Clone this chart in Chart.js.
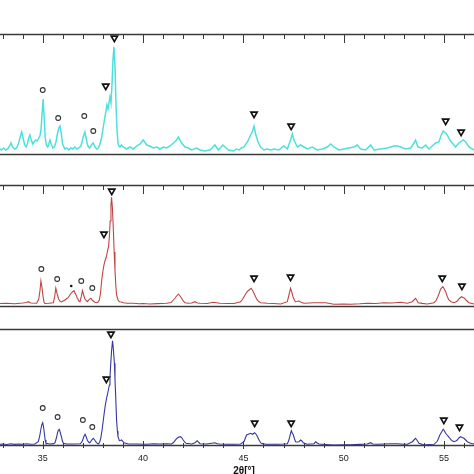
<!DOCTYPE html>
<html>
<head>
<meta charset="utf-8">
<script src="https://cdn.jsdelivr.net/npm/chart.js@4.4.1/dist/chart.umd.min.js"></script>
<style>
  html, body { margin: 0; padding: 0; background: #fff; }
  #wrap { position: relative; width: 474px; height: 474px; overflow: hidden; background: #fff; }
  #wrap canvas { position: absolute; left: 0; }
</style>
</head>
<body>
<div id="wrap">
  <canvas id="topChart" width="488" height="132" style="top:28px"></canvas>
  <canvas id="midChart" width="488" height="132" style="top:180px"></canvas>
  <canvas id="botChart" width="488" height="155" style="top:324px"></canvas>
</div>
<script>
// 2θ range shown (the figure is cropped on both sides)
const thetaMin = 32.87;
const thetaMax = 57.19;
const tickLabels = [35, 40, 45, 50, 55];

// top pattern (cyan)
const cyanTheta = [32.87, 32.95, 33.05, 33.15, 33.25, 33.35, 33.42, 33.5, 33.6, 33.7, 33.8, 33.9, 33.95, 34.02, 34.1, 34.17, 34.25, 34.3, 34.36, 34.43, 34.5, 34.56, 34.65, 34.72, 34.8, 34.86, 34.92, 34.97, 35.02, 35.07, 35.12, 35.18, 35.25, 35.3, 35.36, 35.42, 35.5, 35.58, 35.66, 35.73, 35.8, 35.86, 35.92, 35.99, 36.05, 36.11, 36.2, 36.3, 36.4, 36.5, 36.6, 36.7, 36.8, 36.9, 36.97, 37.03, 37.1, 37.16, 37.22, 37.28, 37.33, 37.4, 37.46, 37.52, 37.58, 37.64, 37.7, 37.76, 37.82, 37.88, 37.94, 38.0, 38.05, 38.1, 38.15, 38.2, 38.25, 38.3, 38.35, 38.4, 38.45, 38.5, 38.55, 38.6, 38.65, 38.7, 38.75, 38.8, 38.85, 38.92, 39.02, 39.18, 39.35, 39.51, 39.68, 39.85, 40.01, 40.18, 40.34, 40.51, 40.68, 40.84, 41.01, 41.17, 41.34, 41.51, 41.67, 41.76, 41.92, 42.09, 42.25, 42.42, 42.67, 42.84, 43.08, 43.33, 43.58, 43.75, 43.98, 44.25, 44.5, 44.65, 44.78, 44.9, 45.03, 45.2, 45.36, 45.44, 45.53, 45.61, 45.73, 45.86, 46.02, 46.19, 46.36, 46.52, 46.77, 46.94, 47.02, 47.19, 47.35, 47.44, 47.52, 47.69, 47.85, 48.02, 48.18, 48.43, 48.68, 48.93, 49.18, 49.35, 49.51, 49.76, 50.01, 50.26, 50.51, 50.68, 50.84, 51.09, 51.34, 51.51, 51.84, 52.17, 52.5, 52.67, 52.84, 53.09, 53.34, 53.5, 53.58, 53.7, 53.91, 54.08, 54.25, 54.41, 54.58, 54.74, 54.86, 54.96, 55.07, 55.16, 55.29, 55.41, 55.57, 55.74, 55.96, 56.08, 56.24, 56.49, 56.8, 57.2];
const cyanIntensity = [6, 5, 7, 5, 6, 9, 12, 8, 6, 7, 12, 20, 23, 17, 10, 8, 12, 17, 20, 15, 11, 13, 15, 14, 17, 19, 27, 42, 56, 38, 18, 10, 8, 11, 15, 11, 7, 8, 13, 21, 27, 29, 22, 11, 8, 6, 7, 5, 7, 6, 8, 6, 7, 9, 14, 19, 23, 17, 11, 8, 7, 9, 11, 12, 9, 7, 6, 7, 9, 13, 18, 26, 32, 38, 44, 50, 46, 52, 58, 52, 70, 95, 108, 88, 52, 25, 12, 9, 8, 10, 8, 6, 8, 6, 9, 11, 15, 10, 9, 7, 8, 6, 8, 7, 9, 12, 15, 18, 12, 8, 7, 5, 7, 5, 4, 5, 10, 5, 10, 5, 4, 6, 5, 7, 8, 13, 20, 23, 29, 21, 13, 8, 5, 6, 5, 6, 5, 8, 9, 6, 15, 21, 15, 8, 10, 8, 6, 8, 5, 6, 8, 11, 8, 5, 6, 7, 8, 10, 6, 5, 10, 5, 6, 7, 9, 9, 8, 6, 7, 12, 15, 8, 7, 10, 6, 9, 12, 13, 20, 24, 22, 20, 15, 12, 8, 12, 15, 13, 8, 5, 6, 5];

// middle pattern (red)
const redTheta = [32.87, 33.2, 33.6, 34.0, 34.2, 34.28, 34.4, 34.7, 34.8, 34.86, 34.91, 34.96, 35.0, 35.06, 35.11, 35.3, 35.53, 35.6, 35.65, 35.72, 35.79, 35.87, 35.94, 36.02, 36.11, 36.2, 36.27, 36.35, 36.42, 36.49, 36.56, 36.61, 36.66, 36.72, 36.8, 36.86, 36.92, 36.98, 37.04, 37.1, 37.22, 37.32, 37.4, 37.46, 37.52, 37.6, 37.69, 37.76, 37.82, 37.88, 37.94, 38.0, 38.05, 38.1, 38.15, 38.19, 38.22, 38.28, 38.32, 38.36, 38.4, 38.43, 38.47, 38.52, 38.56, 38.6, 38.64, 38.68, 38.75, 38.82, 38.92, 39.02, 39.2, 39.51, 39.8, 40.0, 40.34, 40.7, 41.17, 41.4, 41.51, 41.6, 41.67, 41.76, 41.84, 41.92, 42.0, 42.09, 42.25, 42.42, 42.59, 42.7, 42.84, 43.2, 43.5, 43.83, 44.2, 44.53, 44.86, 44.95, 45.03, 45.11, 45.19, 45.28, 45.39, 45.46, 45.53, 45.61, 45.69, 45.78, 45.86, 46.19, 46.5, 46.86, 47.19, 47.27, 47.35, 47.41, 47.47, 47.54, 47.6, 47.69, 47.77, 47.9, 48.02, 48.52, 49.1, 49.51, 50.0, 50.34, 50.8, 51.17, 51.6, 52.0, 52.4, 52.83, 53.17, 53.42, 53.5, 53.58, 53.65, 53.71, 53.9, 54.16, 54.5, 54.6, 54.69, 54.76, 54.83, 54.94, 55.01, 55.08, 55.16, 55.24, 55.35, 55.49, 55.58, 55.66, 55.76, 55.87, 55.95, 56.02, 56.12, 56.24, 56.49, 56.8, 57.2];
const redIntensity = [3.5, 3.8, 3.3, 4, 4.5, 5.3, 4, 3.7, 8, 16, 26, 20, 13, 5, 3.5, 3.7, 4.3, 11, 18.7, 13, 8, 5.5, 5, 6, 7, 8.5, 9.3, 12, 14, 15.3, 16.3, 14, 12, 9, 6, 5.3, 10.3, 16.3, 12, 8, 5.3, 7.7, 8.7, 7, 6, 4.7, 4.3, 5, 7, 14, 27, 36, 42, 46, 48.7, 52, 55.3, 60.3, 70, 86, 102, 109.7, 100, 77, 55, 37, 22, 12, 7, 5.3, 5, 4.3, 3.7, 3.7, 3.2, 3.5, 3, 3.4, 3.7, 4.5, 7, 9, 11, 13, 11, 8.7, 6, 4.3, 3.8, 4, 5.3, 4, 3.7, 3.5, 4.7, 3.7, 3.5, 3.5, 5.3, 7.5, 10.3, 13, 15.3, 17, 18.7, 16.5, 13.7, 10, 7, 5.2, 4.3, 3.7, 3.5, 3, 5.3, 12, 18.7, 15, 10.3, 7, 5.3, 5.5, 6, 4.5, 3.7, 4.3, 4.3, 2.8, 3, 2.8, 3.2, 3.7, 3.5, 4.3, 4, 4.7, 3.7, 5.3, 7, 8.7, 6.5, 4.3, 3.6, 3, 4.3, 6.5, 10.3, 14, 18, 20.3, 18, 15.3, 10.5, 7, 5.2, 4.3, 5, 6, 8.5, 10.3, 9.5, 8.7, 6.5, 4.3, 3, 3.5, 3];

// bottom pattern (blue)
const blueTheta = [32.87, 33.0, 33.2, 33.4, 33.6, 33.8, 34.0, 34.2, 34.4, 34.6, 34.78, 34.85, 34.9, 34.95, 35.0, 35.04, 35.08, 35.12, 35.16, 35.36, 35.55, 35.61, 35.68, 35.73, 35.78, 35.83, 35.88, 35.93, 35.98, 36.03, 36.19, 36.52, 36.86, 36.94, 36.99, 37.05, 37.11, 37.17, 37.22, 37.27, 37.32, 37.38, 37.44, 37.52, 37.58, 37.64, 37.71, 37.77, 37.83, 37.89, 37.95, 38.02, 38.07, 38.12, 38.18, 38.22, 38.27, 38.32, 38.35, 38.38, 38.43, 38.48, 38.52, 38.57, 38.6, 38.63, 38.68, 38.72, 38.75, 38.82, 38.88, 38.93, 39.0, 39.05, 39.26, 39.68, 40.18, 40.5, 40.84, 41.2, 41.42, 41.52, 41.59, 41.68, 41.76, 41.87, 41.94, 42.0, 42.07, 42.14, 42.42, 42.59, 42.7, 42.78, 42.84, 43.17, 43.58, 43.7, 43.83, 44.2, 44.53, 44.86, 45.03, 45.1, 45.16, 45.28, 45.36, 45.46, 45.56, 45.66, 45.72, 45.78, 45.84, 45.89, 46.11, 46.69, 47.0, 47.19, 47.24, 47.29, 47.35, 47.39, 47.44, 47.49, 47.55, 47.6, 47.68, 47.77, 47.85, 47.92, 47.98, 48.18, 48.52, 48.6, 48.68, 48.77, 49.1, 49.51, 50.0, 50.34, 50.8, 51.17, 51.34, 51.45, 51.67, 52.0, 52.34, 52.67, 53.0, 53.17, 53.42, 53.5, 53.58, 53.66, 53.75, 54.0, 54.25, 54.5, 54.66, 54.72, 54.79, 54.88, 54.96, 55.02, 55.08, 55.19, 55.26, 55.33, 55.41, 55.49, 55.58, 55.66, 55.74, 55.82, 55.9, 55.99, 56.08, 56.16, 56.32, 56.49, 56.8, 57.2];
const blueIntensity = [1.7, 2, 1.5, 2.2, 1.6, 2, 1.7, 2.3, 1.8, 2, 4.3, 10, 16, 21, 23.3, 19, 12.7, 6, 2.7, 2, 2.4, 3.3, 8, 12.7, 16, 16.7, 13, 9.3, 5, 2.7, 2, 2, 2.3, 3.5, 6, 9.5, 11.7, 9, 6, 4.3, 3.3, 4, 6, 7.7, 6.3, 4.3, 2.8, 2, 3.5, 7.7, 15, 26, 34, 41, 47.7, 51, 56, 61, 68, 79.3, 95, 105.3, 97, 82.7, 67, 52.7, 26, 15, 9.3, 5.3, 5.5, 6, 4.5, 3.3, 2, 2, 1.7, 2.2, 2, 2.2, 2, 3.5, 5.3, 7.5, 8.7, 9.3, 8, 6, 4, 2.7, 2, 3.3, 5.3, 3.5, 2.3, 2, 3.3, 2.2, 2, 1.7, 1.7, 2, 4.3, 8, 11, 12, 12.7, 11.7, 13.3, 11, 8.5, 6, 4, 2.7, 1.7, 1.7, 2, 2.3, 4.5, 7.7, 12.5, 15.3, 13, 11, 7, 4.3, 4, 4.3, 6, 5, 3.3, 1.7, 2.3, 4.3, 3, 2, 1.5, 1, 1.3, 1.3, 1.6, 2, 3.3, 2, 1.7, 2, 2.3, 2.2, 1.8, 1.7, 4.3, 6, 7.7, 5.5, 2.7, 1, 1.5, 1.7, 4.7, 7.5, 11, 14, 16.7, 15, 12.7, 10, 8.5, 6.7, 5.2, 4.3, 5, 6, 8, 9.3, 8.5, 7.7, 6, 4.3, 2.7, 2, 1.8, 1.5];

// peak markers [2θ, height]: ▽ and ○ phases, ■ extra phase
const topTriangles = [[38.57, 117], [38.14, 69], [45.53, 41], [47.38, 29], [55.08, 34], [55.85, 23]];
const topCircles = [[35.0, 65], [35.77, 37], [37.07, 39], [37.52, 24]];
const midTriangles = [[38.44, 116], [38.05, 73], [45.53, 29], [47.35, 30], [54.91, 29], [55.89, 21]];
const midCircles = [[34.93, 38], [35.72, 28], [36.92, 26], [37.47, 19]];
const midSquares = [[36.42, 21]];
const botTriangles = [[38.4, 112], [38.17, 67], [45.56, 23], [47.38, 23], [54.99, 26], [55.77, 19]];
const botCircles = [[35.0, 38], [35.74, 29], [37.0, 26], [37.47, 19]];

const fontFamily = '"Liberation Sans", Arial, sans-serif';

const toPoints = (xs, ys) => xs.map((x, i) => ({ x: x, y: ys[i] }));
const toMarks = (pairs) => pairs.map(p => ({ x: p[0], y: p[1] }));

// frame lines + minor/major ticks drawn along the x scale
const panelFrame = {
  id: 'panelFrame',
  afterDraw(chart, args, opts) {
    const { ctx, chartArea: a, scales } = chart;
    const x = scales.x;
    ctx.save();
    ctx.strokeStyle = '#3a3a3a';
    ctx.lineWidth = 1.3;
    ctx.beginPath();
    ctx.moveTo(a.left, a.top + 0.5); ctx.lineTo(a.right, a.top + 0.5);
    ctx.moveTo(a.left, a.bottom - 0.5); ctx.lineTo(a.right, a.bottom - 0.5);
    ctx.stroke();
    ctx.lineWidth = 1;
    ctx.beginPath();
    for (let v = Math.ceil(thetaMin); v <= Math.floor(thetaMax); v++) {
      const px = Math.round(x.getPixelForValue(v)) + 0.5;
      const major = v % 5 === 0;
      if (opts.side === 'top') {
        ctx.moveTo(px, a.top);
        ctx.lineTo(px, a.top + (major ? 9 : 5));
      } else {
        ctx.moveTo(px, a.bottom - (major ? 5 : 3));
        ctx.lineTo(px, a.bottom + (major ? 3 : 2));
      }
    }
    ctx.stroke();
    ctx.restore();
  }
};

function makePanel(id, color, width, series, triangles, circles, squares, yMax, side, showAxis, padTop, padBottom) {
  const datasets = [
    { data: series, borderColor: color, borderWidth: width, pointRadius: 0, fill: false, tension: 0 },
    { data: toMarks(triangles), showLine: false, pointStyle: 'triangle', rotation: 180,
      pointRadius: 3.6, pointBorderWidth: 1.7, pointBorderColor: '#111', pointBackgroundColor: '#fff' },
    { data: toMarks(circles), showLine: false, pointStyle: 'circle',
      pointRadius: 2.4, pointBorderWidth: 1.1, pointBorderColor: '#333', pointBackgroundColor: '#fff' }
  ];
  if (squares) {
    datasets.push({ data: toMarks(squares), showLine: false, pointStyle: 'rect',
      pointRadius: 1.6, pointBorderWidth: 0, pointBackgroundColor: '#111' });
  }
  const xScale = {
    type: 'linear',
    min: thetaMin,
    max: thetaMax,
    display: showAxis,
    border: { display: false },
    grid: { display: false, drawTicks: false },
    afterBuildTicks: (scale) => { scale.ticks = tickLabels.map(v => ({ value: v })); },
    ticks: { font: { family: fontFamily, size: 9 }, color: '#222', padding: 7, maxRotation: 0, autoSkip: false },
    title: { display: true, text: '2θ[°]', color: '#111',
             font: { family: fontFamily, size: 10, weight: 'bold' }, padding: { top: 0, bottom: 2 } }
  };
  if (showAxis) {
    xScale.afterFit = (scale) => { scale.height = 33; };
  }
  return new Chart(document.getElementById(id), {
    type: 'line',
    data: { datasets: datasets },
    options: {
      responsive: false,
      animation: false,
      layout: { autoPadding: false, padding: { top: padTop, bottom: padBottom, left: 0, right: 0 } },
      plugins: { legend: { display: false }, tooltip: { enabled: false }, panelFrame: { side: side } },
      scales: {
        x: xScale,
        y: { display: false, min: 0, max: yMax }
      }
    },
    plugins: [panelFrame]
  });
}

makePanel('topChart', '#4fe0dc', 1.5, toPoints(cyanTheta, cyanIntensity), topTriangles, topCircles, null, 121, 'top', false, 6, 5);
makePanel('midChart', '#bf4446', 1.1, toPoints(redTheta, redIntensity), midTriangles, midCircles, midSquares, 122, 'top', false, 5, 5);
makePanel('botChart', '#3636a0', 1.1, toPoints(blueTheta, blueIntensity), botTriangles, botCircles, null, 117, 'bottom', true, 5, 0);
</script>
</body>
</html>
